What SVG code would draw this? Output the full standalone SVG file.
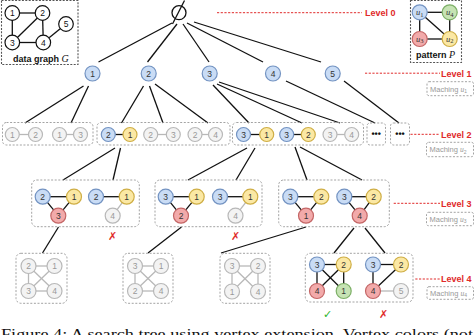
<svg xmlns="http://www.w3.org/2000/svg" width="474" height="335" viewBox="0 0 474 335">
<style>
text{font-family:"Liberation Sans",Arial,sans-serif;}
.n circle{stroke-width:1.2;}
.n text{font-size:8.5px;text-anchor:middle;fill:#333;}
.w circle{fill:#fff;stroke:#111;}
.w text{fill:#111;}
.b circle{fill:#c9dcf5;stroke:#7393c2;}
.y circle{fill:#fbe8a4;stroke:#cfae45;}
.r circle{fill:#f2aaaa;stroke:#c46666;}
.g circle{fill:#c6e3b4;stroke:#7caf66;}
.gr circle{fill:#f3f3f3;stroke:#b8b8b8;}
.gr text{fill:#999;}
.e{stroke:#111;stroke-width:1.3;fill:none;}
.eg{stroke:#b8b8b8;stroke-width:1.3;fill:none;}
.box{fill:none;stroke:#999;stroke-width:0.9;stroke-dasharray:2 1.6;}
.bbox{fill:none;stroke:#555;stroke-width:1.1;stroke-dasharray:2 1.4;}
.lvl{stroke:#e02a2a;stroke-width:1;stroke-dasharray:2.2 1.5;}
.lt{font-size:9px;font-weight:bold;fill:#e02a2a;}
.mt{font-size:7.5px;fill:#999;}
.u{font-family:"Liberation Serif","Times New Roman",serif;font-style:italic;font-size:9.5px;}
.mark{font-family:"DejaVu Sans",sans-serif;font-size:11px;font-weight:bold;text-anchor:middle;}
</style>

<!-- data graph -->
<g id="data-graph">
<rect class="bbox" x="1.5" y="0.5" width="76.5" height="64"/>
<line class="e" x1="12.3" y1="13" x2="42.5" y2="13"/>
<line class="e" x1="12.3" y1="13" x2="12.3" y2="42.5"/>
<line class="e" x1="42.5" y1="13" x2="12.3" y2="42.5"/>
<line class="e" x1="42.5" y1="13" x2="43.3" y2="42.5"/>
<line class="e" x1="12.3" y1="42.5" x2="43.3" y2="42.5"/>
<line class="e" x1="43.3" y1="42.5" x2="66" y2="24"/>
<g class="n w"><circle cx="12.3" cy="13" r="7.3"/><text x="12.3" y="16">1</text></g>
<g class="n w"><circle cx="42.5" cy="13" r="7.3"/><text x="42.5" y="16">2</text></g>
<g class="n w"><circle cx="66" cy="24" r="7.3"/><text x="66" y="27">5</text></g>
<g class="n w"><circle cx="12.3" cy="42.5" r="7.3"/><text x="12.3" y="45.5">3</text></g>
<g class="n w"><circle cx="43.3" cy="42.5" r="7.3"/><text x="43.3" y="45.5">4</text></g>
<text x="13" y="61.5" style="font-size:9px;font-weight:bold;fill:#111;">data graph <tspan style="font-family:'Liberation Serif',serif;font-style:italic;font-weight:normal;font-size:10px;">G</tspan></text>
</g>

<!-- pattern -->
<g id="pattern">
<rect class="bbox" x="410.5" y="0.5" width="51" height="62"/>
<line class="e" x1="419.7" y1="12.3" x2="449.7" y2="12.3"/>
<line class="e" x1="419.7" y1="12.3" x2="419.7" y2="39"/>
<line class="e" x1="419.7" y1="12.3" x2="449.7" y2="39"/>
<line class="e" x1="449.7" y1="12.3" x2="449.7" y2="39"/>
<line class="e" x1="419.7" y1="39" x2="449.7" y2="39"/>
<g class="n b"><circle cx="419.7" cy="12.3" r="7.5"/><text class="u" x="419.7" y="15">u<tspan style="font-size:6.5px;font-style:normal" dy="1.5">1</tspan></text></g>
<g class="n g"><circle cx="449.7" cy="12.3" r="7.5"/><text class="u" x="449.7" y="15">u<tspan style="font-size:6.5px;font-style:normal" dy="1.5">4</tspan></text></g>
<g class="n r"><circle cx="419.7" cy="39" r="7.5"/><text class="u" x="419.7" y="41.7">u<tspan style="font-size:6.5px;font-style:normal" dy="1.5">3</tspan></text></g>
<g class="n y"><circle cx="449.7" cy="39" r="7.5"/><text class="u" x="449.7" y="41.7">u<tspan style="font-size:6.5px;font-style:normal" dy="1.5">2</tspan></text></g>
<text x="416" y="58" style="font-size:9px;font-weight:bold;fill:#111;">pattern <tspan style="font-family:'Liberation Serif',serif;font-style:italic;font-weight:normal;font-size:10px;">P</tspan></text>
</g>

<!-- connectors -->
<g id="connectors" class="e">
<line x1="172" y1="23" x2="98.5" y2="62"/>
<line x1="177" y1="24" x2="147.5" y2="62"/>
<line x1="183" y1="24" x2="209" y2="62"/>
<line x1="187" y1="23" x2="263" y2="62"/>
<line x1="194" y1="22" x2="321" y2="62"/>
<line x1="83.5" y1="86" x2="25" y2="123"/>
<line x1="88.5" y1="86" x2="71" y2="123"/>
<line x1="143.5" y1="86" x2="121.5" y2="123"/>
<line x1="149.5" y1="86" x2="163" y2="123"/>
<line x1="155" y1="84" x2="208" y2="123"/>
<line x1="213" y1="85" x2="249" y2="123"/>
<line x1="217" y1="84" x2="302" y2="123"/>
<line x1="219" y1="82" x2="340" y2="123"/>
<line x1="286" y1="81" x2="375" y2="123"/>
<line x1="344" y1="81" x2="399" y2="123"/>
<line x1="115" y1="148" x2="63" y2="180"/>
<line x1="120.5" y1="148" x2="113" y2="180"/>
<line x1="247" y1="148" x2="188" y2="180"/>
<line x1="255" y1="148" x2="236" y2="180"/>
<line x1="295" y1="147" x2="307" y2="180"/>
<line x1="300" y1="147" x2="362" y2="180"/>
<line x1="58.5" y1="227" x2="42.5" y2="253"/>
<line x1="181.5" y1="227" x2="148" y2="253"/>
<line x1="306" y1="227" x2="221" y2="253"/>
<line x1="354" y1="228" x2="334" y2="253"/>
<line x1="365" y1="228" x2="385" y2="253"/>
</g>

<!-- level 0 -->
<g id="root">
<circle cx="179" cy="12.7" r="7" fill="#fff" stroke="#111" stroke-width="1.3"/>
<line class="e" x1="184.5" y1="0.5" x2="172.5" y2="24"/>
</g>

<!-- level 1 -->
<g id="l1-1" class="n b"><circle cx="92.5" cy="73.5" r="7.5"/><text x="92.5" y="76.5">1</text></g>
<g id="l1-2" class="n b"><circle cx="148.7" cy="73.5" r="7.5"/><text x="148.7" y="76.5">2</text></g>
<g id="l1-3" class="n b"><circle cx="209.7" cy="73.5" r="7.5"/><text x="209.7" y="76.5">3</text></g>
<g id="l1-4" class="n b"><circle cx="273" cy="73.5" r="7.5"/><text x="273" y="76.5">4</text></g>
<g id="l1-5" class="n b"><circle cx="332.7" cy="73.5" r="7.5"/><text x="332.7" y="76.5">5</text></g>

<!-- level 2 -->
<g id="l2-a">
<rect class="box" x="2.5" y="122.5" width="90.5" height="22.5" rx="4"/>
<line class="eg" x1="12.3" y1="134.5" x2="35.5" y2="134.5"/>
<line class="eg" x1="59.5" y1="134.5" x2="80.5" y2="134.5"/>
<g class="n gr"><circle cx="12.3" cy="134.5" r="7"/><text x="12.3" y="137.5">1</text></g>
<g class="n gr"><circle cx="35.5" cy="134.5" r="7"/><text x="35.5" y="137.5">2</text></g>
<g class="n gr"><circle cx="59.5" cy="134.5" r="7"/><text x="59.5" y="137.5">1</text></g>
<g class="n gr"><circle cx="80.5" cy="134.5" r="7"/><text x="80.5" y="137.5">3</text></g>
</g>
<g id="l2-b">
<rect class="box" x="97" y="122.5" width="133" height="22.5" rx="4"/>
<line class="e" x1="108.3" y1="134.5" x2="130" y2="134.5"/>
<line class="eg" x1="150.7" y1="134.5" x2="173.3" y2="134.5"/>
<line class="eg" x1="195" y1="134.5" x2="215.5" y2="134.5"/>
<g class="n b"><circle cx="108.3" cy="134.5" r="7"/><text x="108.3" y="137.5">2</text></g>
<g class="n y"><circle cx="130" cy="134.5" r="7"/><text x="130" y="137.5">1</text></g>
<g class="n gr"><circle cx="150.7" cy="134.5" r="7"/><text x="150.7" y="137.5">2</text></g>
<g class="n gr"><circle cx="173.3" cy="134.5" r="7"/><text x="173.3" y="137.5">3</text></g>
<g class="n gr"><circle cx="195" cy="134.5" r="7"/><text x="195" y="137.5">2</text></g>
<g class="n gr"><circle cx="215.5" cy="134.5" r="7"/><text x="215.5" y="137.5">4</text></g>
</g>
<g id="l2-c">
<rect class="box" x="232.5" y="122.5" width="131" height="22.5" rx="4"/>
<line class="e" x1="243.5" y1="134.5" x2="266.7" y2="134.5"/>
<line class="e" x1="286.7" y1="134.5" x2="308.3" y2="134.5"/>
<line class="eg" x1="330" y1="134.5" x2="351.7" y2="134.5"/>
<g class="n b"><circle cx="243.5" cy="134.5" r="7"/><text x="243.5" y="137.5">3</text></g>
<g class="n y"><circle cx="266.7" cy="134.5" r="7"/><text x="266.7" y="137.5">1</text></g>
<g class="n b"><circle cx="286.7" cy="134.5" r="7"/><text x="286.7" y="137.5">3</text></g>
<g class="n y"><circle cx="308.3" cy="134.5" r="7"/><text x="308.3" y="137.5">2</text></g>
<g class="n gr"><circle cx="330" cy="134.5" r="7"/><text x="330" y="137.5">3</text></g>
<g class="n gr"><circle cx="351.7" cy="134.5" r="7"/><text x="351.7" y="137.5">4</text></g>
</g>
<g id="l2-d">
<rect class="box" x="367" y="123" width="18.5" height="22" rx="3"/>
<text x="376.2" y="137" style="font-size:9px;font-weight:bold;text-anchor:middle;fill:#111;">•••</text>
</g>
<g id="l2-e">
<rect class="box" x="390.5" y="123" width="19" height="22" rx="3"/>
<text x="400" y="137" style="font-size:9px;font-weight:bold;text-anchor:middle;fill:#111;">•••</text>
</g>

<!-- level 3 -->
<g id="l3-a">
<rect class="box" x="31.7" y="180" width="107.6" height="46.7" rx="5"/>
<line class="e" x1="42.7" y1="196.7" x2="74" y2="196.7"/>
<line class="e" x1="42.7" y1="196.7" x2="58.3" y2="215.7"/>
<line class="e" x1="74" y1="196.7" x2="58.3" y2="215.7"/>
<line class="e" x1="96" y1="196.7" x2="126.7" y2="196.7"/>
<line class="eg" x1="126.7" y1="196.7" x2="112.7" y2="215.7"/>
<g class="n b"><circle cx="42.7" cy="196.7" r="7.5"/><text x="42.7" y="199.7">2</text></g>
<g class="n y"><circle cx="74" cy="196.7" r="7.5"/><text x="74" y="199.7">1</text></g>
<g class="n r"><circle cx="58.3" cy="215.7" r="7.5"/><text x="58.3" y="218.7">3</text></g>
<g class="n b"><circle cx="96" cy="196.7" r="7.5"/><text x="96" y="199.7">2</text></g>
<g class="n y"><circle cx="126.7" cy="196.7" r="7.5"/><text x="126.7" y="199.7">1</text></g>
<g class="n gr"><circle cx="112.7" cy="215.7" r="7.5"/><text x="112.7" y="218.7">4</text></g>
<text class="mark" x="112.7" y="239.5" fill="#e02a2a">✗</text>
</g>
<g id="l3-b">
<rect class="box" x="155" y="180" width="107" height="46.7" rx="5"/>
<line class="e" x1="165.7" y1="196.7" x2="196.7" y2="196.7"/>
<line class="e" x1="165.7" y1="196.7" x2="181" y2="215.7"/>
<line class="e" x1="196.7" y1="196.7" x2="181" y2="215.7"/>
<line class="e" x1="220" y1="196.7" x2="250.3" y2="196.7"/>
<line class="eg" x1="250.3" y1="196.7" x2="235.5" y2="215.7"/>
<g class="n b"><circle cx="165.7" cy="196.7" r="7.5"/><text x="165.7" y="199.7">3</text></g>
<g class="n y"><circle cx="196.7" cy="196.7" r="7.5"/><text x="196.7" y="199.7">1</text></g>
<g class="n r"><circle cx="181" cy="215.7" r="7.5"/><text x="181" y="218.7">2</text></g>
<g class="n b"><circle cx="220" cy="196.7" r="7.5"/><text x="220" y="199.7">3</text></g>
<g class="n y"><circle cx="250.3" cy="196.7" r="7.5"/><text x="250.3" y="199.7">1</text></g>
<g class="n gr"><circle cx="235.5" cy="215.7" r="7.5"/><text x="235.5" y="218.7">4</text></g>
<text class="mark" x="235.5" y="239.5" fill="#e02a2a">✗</text>
</g>
<g id="l3-c">
<rect class="box" x="278.7" y="180" width="110.6" height="46.7" rx="5"/>
<line class="e" x1="290.3" y1="196.7" x2="321.3" y2="196.7"/>
<line class="e" x1="290.3" y1="196.7" x2="306" y2="215.7"/>
<line class="e" x1="321.3" y1="196.7" x2="306" y2="215.7"/>
<line class="e" x1="344.3" y1="196.7" x2="373.7" y2="196.7"/>
<line class="e" x1="344.3" y1="196.7" x2="359.7" y2="215.7"/>
<line class="e" x1="373.7" y1="196.7" x2="359.7" y2="215.7"/>
<g class="n b"><circle cx="290.3" cy="196.7" r="7.5"/><text x="290.3" y="199.7">3</text></g>
<g class="n y"><circle cx="321.3" cy="196.7" r="7.5"/><text x="321.3" y="199.7">2</text></g>
<g class="n r"><circle cx="306" cy="215.7" r="7.5"/><text x="306" y="218.7">1</text></g>
<g class="n b"><circle cx="344.3" cy="196.7" r="7.5"/><text x="344.3" y="199.7">3</text></g>
<g class="n y"><circle cx="373.7" cy="196.7" r="7.5"/><text x="373.7" y="199.7">2</text></g>
<g class="n r"><circle cx="359.7" cy="215.7" r="7.5"/><text x="359.7" y="218.7">4</text></g>
</g>

<!-- level 4 -->
<g id="l4-a">
<rect class="box" x="16" y="253.3" width="51" height="50" rx="5"/>
<line class="eg" x1="28.5" y1="266" x2="54.5" y2="266"/>
<line class="eg" x1="28.5" y1="266" x2="28.5" y2="291"/>
<line class="eg" x1="28.5" y1="291" x2="54.5" y2="291"/>
<line class="eg" x1="28.5" y1="266" x2="54.5" y2="291"/>
<line class="eg" x1="54.5" y1="266" x2="28.5" y2="291"/>
<g class="n gr"><circle cx="28.5" cy="266" r="7.5"/><text x="28.5" y="269">2</text></g>
<g class="n gr"><circle cx="54.5" cy="266" r="7.5"/><text x="54.5" y="269">1</text></g>
<g class="n gr"><circle cx="28.5" cy="291" r="7.5"/><text x="28.5" y="294">3</text></g>
<g class="n gr"><circle cx="54.5" cy="291" r="7.5"/><text x="54.5" y="294">4</text></g>
</g>
<g id="l4-b">
<rect class="box" x="123" y="253.3" width="50" height="50" rx="5"/>
<line class="eg" x1="135" y1="266" x2="161" y2="266"/>
<line class="eg" x1="135" y1="266" x2="135" y2="291"/>
<line class="eg" x1="135" y1="291" x2="161" y2="291"/>
<line class="eg" x1="135" y1="266" x2="161" y2="291"/>
<line class="eg" x1="161" y1="266" x2="135" y2="291"/>
<g class="n gr"><circle cx="135" cy="266" r="7.5"/><text x="135" y="269">3</text></g>
<g class="n gr"><circle cx="161" cy="266" r="7.5"/><text x="161" y="269">1</text></g>
<g class="n gr"><circle cx="135" cy="291" r="7.5"/><text x="135" y="294">2</text></g>
<g class="n gr"><circle cx="161" cy="291" r="7.5"/><text x="161" y="294">4</text></g>
</g>
<g id="l4-c">
<rect class="box" x="220" y="253.3" width="50" height="50" rx="5"/>
<line class="eg" x1="232" y1="266" x2="258" y2="266"/>
<line class="eg" x1="232" y1="266" x2="232" y2="291.5"/>
<line class="eg" x1="258" y1="266" x2="258" y2="291.5"/>
<line class="eg" x1="232" y1="266" x2="258" y2="291.5"/>
<line class="eg" x1="258" y1="266" x2="232" y2="291.5"/>
<g class="n gr"><circle cx="232" cy="266" r="7.5"/><text x="232" y="269">3</text></g>
<g class="n gr"><circle cx="258" cy="266" r="7.5"/><text x="258" y="269">2</text></g>
<g class="n gr"><circle cx="232" cy="291.5" r="7.5"/><text x="232" y="294.5">1</text></g>
<g class="n gr"><circle cx="258" cy="291.5" r="7.5"/><text x="258" y="294.5">4</text></g>
</g>
<g id="l4-d">
<rect class="box" x="305.3" y="253.3" width="107.7" height="48.7" rx="5"/>
<line class="e" x1="317" y1="264.5" x2="343.7" y2="264.5"/>
<line class="e" x1="317" y1="264.5" x2="317" y2="291"/>
<line class="e" x1="343.7" y1="264.5" x2="343.7" y2="291"/>
<line class="e" x1="317" y1="264.5" x2="343.7" y2="291"/>
<line class="e" x1="343.7" y1="264.5" x2="317" y2="291"/>
<line class="e" x1="373" y1="264.5" x2="401" y2="264.5"/>
<line class="e" x1="373" y1="264.5" x2="373" y2="291"/>
<line class="e" x1="401" y1="264.5" x2="373" y2="291"/>
<line class="eg" x1="373" y1="291" x2="401" y2="291"/>
<g class="n b"><circle cx="317" cy="264.5" r="7.5"/><text x="317" y="267.5">3</text></g>
<g class="n y"><circle cx="343.7" cy="264.5" r="7.5"/><text x="343.7" y="267.5">2</text></g>
<g class="n r"><circle cx="317" cy="291" r="7.5"/><text x="317" y="294">4</text></g>
<g class="n g"><circle cx="343.7" cy="291" r="7.5"/><text x="343.7" y="294">1</text></g>
<g class="n b"><circle cx="373" cy="264.5" r="7.5"/><text x="373" y="267.5">3</text></g>
<g class="n y"><circle cx="401" cy="264.5" r="7.5"/><text x="401" y="267.5">2</text></g>
<g class="n r"><circle cx="373" cy="291" r="7.5"/><text x="373" y="294">4</text></g>
<g class="n gr"><circle cx="401" cy="291" r="7.5"/><text x="401" y="294">5</text></g>
<text class="mark" x="327.7" y="318" fill="#2cb52c">✓</text>
<text class="mark" x="383.7" y="318" fill="#e02a2a">✗</text>
</g>

<!-- level labels -->
<g id="levels">
<line class="lvl" x1="217" y1="12.7" x2="362" y2="12.7"/>
<text class="lt" x="365" y="16">Level 0</text>
<line class="lvl" x1="365" y1="73.2" x2="440" y2="73.2"/>
<text class="lt" x="441" y="76.5">Level 1</text>
<rect class="box" x="427" y="81.7" width="46.5" height="14" rx="2"/>
<text class="mt" x="430" y="91.5">Maching <tspan class="u" style="font-size:7.5px">u</tspan><tspan style="font-size:5px" dy="1.3">1</tspan></text>
<line class="lvl" x1="410.5" y1="134.3" x2="440" y2="134.3"/>
<text class="lt" x="441" y="137.5">Level 2</text>
<rect class="box" x="426.5" y="142.3" width="47" height="14.4" rx="2"/>
<text class="mt" x="429.5" y="152.3">Maching <tspan class="u" style="font-size:7.5px">u</tspan><tspan style="font-size:5px" dy="1.3">2</tspan></text>
<line class="lvl" x1="393.7" y1="203.3" x2="440" y2="203.3"/>
<text class="lt" x="441" y="206.5">Level 3</text>
<rect class="box" x="426.5" y="212.3" width="47" height="13.4" rx="2"/>
<text class="mt" x="429.5" y="221.8">Maching <tspan class="u" style="font-size:7.5px">u</tspan><tspan style="font-size:5px" dy="1.3">3</tspan></text>
<line class="lvl" x1="415.3" y1="279" x2="440" y2="279"/>
<text class="lt" x="441" y="282.3">Level 4</text>
<rect class="box" x="427" y="286.7" width="46.5" height="12.6" rx="2"/>
<text class="mt" x="430" y="295.8">Maching <tspan class="u" style="font-size:7.5px">u</tspan><tspan style="font-size:5px" dy="1.3">4</tspan></text>
</g>

<text x="1" y="338.5" textLength="472" lengthAdjust="spacingAndGlyphs" style="font-family:'Liberation Serif','Times New Roman',serif;font-size:15px;fill:#111;">Figure 4: A search tree using vertex extension. Vertex colors (not</text>
</svg>
